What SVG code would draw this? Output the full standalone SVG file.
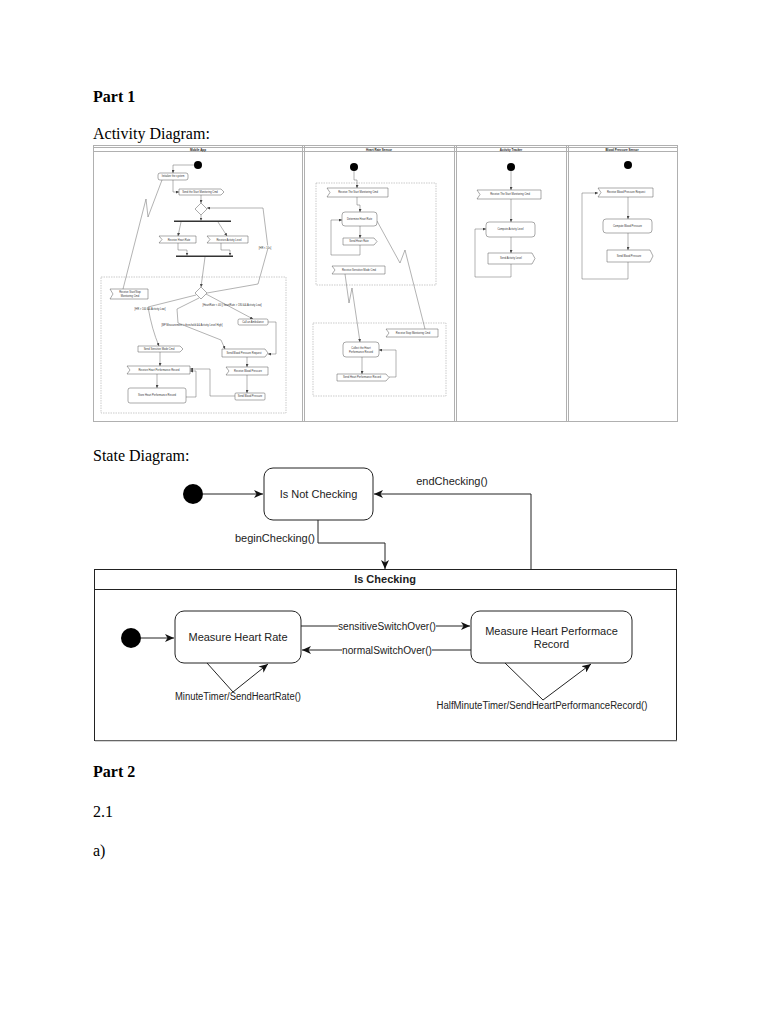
<svg xmlns="http://www.w3.org/2000/svg" width="768" height="1024" viewBox="0 0 768 1024">
<style>
.doc{font-family:"Liberation Serif","Times New Roman",serif;font-size:16px;fill:#000}
.b{font-weight:bold}
.fr{fill:none;stroke:#b0b0b0;stroke-width:1}
.ln{fill:none;stroke:#666;stroke-width:0.5}
.nd{fill:#fff;stroke:#555;stroke-width:0.5}
.dash{fill:none;stroke:#aaa;stroke-width:0.6;stroke-dasharray:1.5,1}
.t{font-family:"Liberation Sans",Arial,sans-serif;font-size:2.6px;fill:#333;text-anchor:middle}
.th{font-family:"Liberation Sans",Arial,sans-serif;font-size:3px;font-weight:bold;fill:#222;text-anchor:middle}
.st{fill:#fff;stroke:#222;stroke-width:1}
.sl{fill:none;stroke:#222;stroke-width:1}
.s{font-family:"Liberation Sans",Arial,sans-serif;font-size:11px;fill:#222;text-anchor:middle}
.sm{font-size:10px}
</style>
<defs>
<marker id="a" markerUnits="userSpaceOnUse" markerWidth="3" markerHeight="3" refX="3" refY="1.5" orient="auto"><path d="M0,0 L3,1.5 L0,3 z" fill="#444"/></marker>
<marker id="A" markerUnits="userSpaceOnUse" markerWidth="10" markerHeight="8" refX="9" refY="4" orient="auto"><path d="M0,0 L9,4 L0,8 L2.5,4 z" fill="#111"/></marker>
</defs>
<rect width="768" height="1024" fill="#fff"/>
<text class="doc b" x="93" y="102">Part 1</text>
<text class="doc" x="93" y="139">Activity Diagram:</text>
<text class="doc" x="93" y="461">State Diagram:</text>
<text class="doc b" x="93" y="777">Part 2</text>
<text class="doc" x="93" y="817">2.1</text>
<text class="doc" x="93" y="856">a)</text>

<g id="activity-diagram">
<rect class="fr" x="93.5" y="145.5" width="584" height="276"/>
<line class="fr" x1="93.5" y1="147.5" x2="677.5" y2="147.5"/>
<line class="fr" x1="93.5" y1="151.5" x2="677.5" y2="151.5"/>
<line class="fr" x1="302.5" y1="145.5" x2="302.5" y2="421.5"/>
<line class="fr" x1="304.5" y1="145.5" x2="304.5" y2="421.5"/>
<line class="fr" x1="454.5" y1="145.5" x2="454.5" y2="421.5"/>
<line class="fr" x1="456.5" y1="145.5" x2="456.5" y2="421.5"/>
<line class="fr" x1="566.5" y1="145.5" x2="566.5" y2="421.5"/>
<line class="fr" x1="568.5" y1="145.5" x2="568.5" y2="421.5"/>
<text class="th" x="198" y="150.5">Mobile App</text>
<text class="th" x="379" y="150.5">Heart Rate Sensor</text>
<text class="th" x="511" y="150.5">Activity Tracker</text>
<text class="th" x="622" y="150.5">Blood Pressure Sensor</text>
<rect class="dash" x="101" y="277" width="185" height="136"/>
<rect class="dash" x="316" y="183" width="120" height="102"/>
<rect class="dash" x="313" y="323" width="133" height="73"/>

<g id="ad-connectors">
<path class="ln" d="M194,165 H173 V173" marker-end="url(#a)"/>
<path class="ln" d="M173,180 V192 H179" marker-end="url(#a)"/>
<path class="ln" d="M201,195 V203" marker-end="url(#a)"/>
<path class="ln" d="M201,215 V220.5" marker-end="url(#a)"/>
<path class="ln" d="M181,222 L178,236" marker-end="url(#a)"/>
<path class="ln" d="M218,222 L227,236" marker-end="url(#a)"/>
<path class="ln" d="M178,243 V250 H187 V255.5" marker-end="url(#a)"/>
<path class="ln" d="M221,243 V250 H230 V255.5" marker-end="url(#a)"/>
<path class="ln" d="M205,257 L201,287" marker-end="url(#a)"/>
<path class="ln" d="M207,293 L258,284 L268,248 L263,208 H207" marker-end="url(#a)"/>
<path class="ln" d="M123,289 L146,199 L148,217 L162,180"/>
<path class="ln" d="M196,295 L148,307 Q152,330 159,346" marker-end="url(#a)"/>
<path class="ln" d="M199,298 L177,309 L178,323 L221,340 L225,349" marker-end="url(#a)"/>
<path class="ln" d="M206,294 L253,319" marker-end="url(#a)"/>
<path class="ln" d="M268,322 H276 V354 H268" marker-end="url(#a)"/>
<path class="ln" d="M160,352 V366" marker-end="url(#a)"/>
<path class="ln" d="M157,374 V388" marker-end="url(#a)"/>
<path class="ln" d="M186,397 H196 V371 H190" marker-end="url(#a)"/>
<path class="ln" d="M247,357 V367" marker-end="url(#a)"/>
<path class="ln" d="M247,375 V393" marker-end="url(#a)"/>
<path class="ln" d="M235,396 H210 V369 H190" marker-end="url(#a)"/>
<path class="ln" d="M354,171 V180 H357 V188" marker-end="url(#a)"/>
<path class="ln" d="M357,197 V205 H360 V212" marker-end="url(#a)"/>
<path class="ln" d="M360,226 V238" marker-end="url(#a)"/>
<path class="ln" d="M360,245 V255 H331 V220 H342" marker-end="url(#a)"/>
<path class="ln" d="M377,221 L400,263 L405,250 L425,329"/>
<path class="ln" d="M345,274 L349,303 L352,288 L360,342" marker-end="url(#a)"/>
<path class="ln" d="M362,357 V374" marker-end="url(#a)"/>
<path class="ln" d="M389,377 H396 V350 H379" marker-end="url(#a)"/>
<path class="ln" d="M511,171 V190" marker-end="url(#a)"/>
<path class="ln" d="M511,199 V222" marker-end="url(#a)"/>
<path class="ln" d="M511,237 V253" marker-end="url(#a)"/>
<path class="ln" d="M511,264 V277 H475 V229 H486" marker-end="url(#a)"/>
<path class="ln" d="M628,197 V219" marker-end="url(#a)"/>
<path class="ln" d="M628,233 V250" marker-end="url(#a)"/>
<path class="ln" d="M628,262 V279 H582 V193 H598" marker-end="url(#a)"/>
<rect x="258" y="245.5" width="14" height="3.5" fill="#fff"/>
<text class="t" x="265" y="248.5">[HR &lt; 10s]</text>
<text class="t" x="150" y="310">[HR &gt; 100 &amp;&amp; Activity Low]</text>
<text class="t" x="192" y="326">[BP Measurement &gt; threshold &amp;&amp; Activity Level High]</text>
<text class="t" x="232" y="306">[HeartRate &lt; 40 || heartRate &gt; 180 &amp;&amp; Activity Low]</text>
</g>

<g id="ad-mobile-start"><circle cx="198" cy="165" r="4" fill="#000"/></g>
<g id="ad-initialize"><rect class="nd" x="158" y="173" width="30" height="7" rx="2"/><text class="t" x="173" y="177.4">Initialize the system</text></g>
<g id="ad-send-start"><path class="nd" d="M179,189 H221 L224,192 L221,195 H179 Z"/><text class="t" x="200" y="193">Send the Start Monitoring Cmd</text></g>
<g id="ad-decision1"><path class="nd" d="M201,203 L207,209 L201,215 L195,209 Z"/></g>
<g id="ad-fork"><rect x="174" y="220.5" width="57" height="1.5" fill="#333"/></g>
<g id="ad-recv-hr"><path class="nd" d="M159,236 H196 V243 H159 L162,239.5 Z"/><text class="t" x="179" y="240.5">Receive Heart Rate</text></g>
<g id="ad-recv-al"><path class="nd" d="M207,236 H248 V243 H207 L210,239.5 Z"/><text class="t" x="229" y="240.5">Receive Activity Level</text></g>
<g id="ad-join"><rect x="176" y="255.5" width="57" height="1.5" fill="#333"/></g>
<g id="ad-recv-startstop"><path class="nd" d="M110,289 H148 V299 H110 L113,294 Z"/><text class="t" x="130" y="293.2">Receive Start/Stop</text><text class="t" x="130" y="296.6">Monitoring Cmd</text></g>
<g id="ad-decision2"><path class="nd" d="M201,287 L207,293 L201,299 L195,293 Z"/></g>
<g id="ad-call-amb"><rect class="nd" x="238" y="319" width="30" height="6" rx="1.5"/><text class="t" x="253" y="322.9">Call an Ambulance</text></g>
<g id="ad-send-sens"><path class="nd" d="M138,346 H180 L183,349 L180,352 H138 Z"/><text class="t" x="159" y="349.9">Send Sensitive Mode Cmd</text></g>
<g id="ad-send-bpreq"><path class="nd" d="M222,349 H265 L268,353 L265,357 H222 Z"/><text class="t" x="244" y="353.9">Send Blood Pressure Request</text></g>
<g id="ad-recv-hpr"><path class="nd" d="M127,366 H190 V374 H127 L130,370 Z"/><text class="t" x="159" y="371">Receive Heart Performance Record</text></g>
<g id="ad-recv-bp"><path class="nd" d="M226,367 H268 V375 H226 L229,371 Z"/><text class="t" x="248" y="372">Receive Blood Pressure</text></g>
<g id="ad-store-hpr"><rect class="nd" x="128" y="388" width="58" height="15" rx="2"/><text class="t" x="157" y="396.4">Store Heart Performance Record</text></g>
<g id="ad-send-bp"><rect class="nd" x="235" y="393" width="30" height="7" rx="1"/><text class="t" x="250" y="397.4">Send Blood Pressure</text></g>

<g id="hr-start"><circle cx="354" cy="167" r="4" fill="#000"/></g>
<g id="hr-recv-start"><path class="nd" d="M327,188 H388 V197 H327 L330,192.5 Z"/><text class="t" x="358" y="193.4">Receive The Start Monitoring Cmd</text></g>
<g id="hr-determine"><rect class="nd" x="342" y="212" width="35" height="14" rx="3"/><text class="t" x="359.5" y="219.9">Determine Heart Rate</text></g>
<g id="hr-send-hr"><path class="nd" d="M343,238 H374 L377,241.5 L374,245 H343 Z"/><text class="t" x="359" y="242.4">Send Heart Rate</text></g>
<g id="hr-recv-sens"><path class="nd" d="M332,266 H385 V274 H332 L335,270 Z"/><text class="t" x="359" y="271">Receive Sensitive Mode Cmd</text></g>
<g id="hr-recv-stop"><path class="nd" d="M386,329 H438 V337 H386 L389,333 Z"/><text class="t" x="413" y="334">Receive Stop Monitoring Cmd</text></g>
<g id="hr-collect"><rect class="nd" x="343" y="342" width="36" height="15" rx="3"/><text class="t" x="361" y="348.5">Collect the Heart</text><text class="t" x="361" y="352.5">Performance Record</text></g>
<g id="hr-send-hpr"><path class="nd" d="M337,374 H386 L389,377.5 L386,381 H337 Z"/><text class="t" x="362" y="378.4">Send Heart Performance Record</text></g>

<g id="at-start"><circle cx="511" cy="167" r="4" fill="#000"/></g>
<g id="at-recv-start"><path class="nd" d="M477,190 H541 V199 H477 L480,194.5 Z"/><text class="t" x="510" y="195.4">Receive The Start Monitoring Cmd</text></g>
<g id="at-compute"><rect class="nd" x="486" y="222" width="49" height="15" rx="3"/><text class="t" x="510.5" y="230.4">Compute Activity Level</text></g>
<g id="at-send"><path class="nd" d="M488,253 H532 L535,258.5 L532,264 H488 Z"/><text class="t" x="511" y="259.4">Send Activity Level</text></g>

<g id="bp-start"><circle cx="628" cy="165" r="4" fill="#000"/></g>
<g id="bp-recv-req"><path class="nd" d="M598,188 H653 V197 H598 L601,192.5 Z"/><text class="t" x="626" y="193.4">Receive Blood Pressure Request</text></g>
<g id="bp-compute"><rect class="nd" x="603" y="219" width="49" height="14" rx="3"/><text class="t" x="627.5" y="226.9">Compute Blood Pressure</text></g>
<g id="bp-send"><path class="nd" d="M607,250 H650 L653,256 L650,262 H607 Z"/><text class="t" x="629" y="256.9">Send Blood Pressure</text></g>
</g>

<g id="state-diagram">
<g id="sd-connectors">
<path class="sl" d="M203,494 H263" marker-end="url(#A)"/>
<path class="sl" d="M318,520 V543 H385 V569" marker-end="url(#A)"/>
<path class="sl" d="M531,569 V494 H374" marker-end="url(#A)" stroke="#555"/>
<path class="sl" d="M141,638 H174" marker-end="url(#A)"/>
<path class="sl" d="M301,626 H470" marker-end="url(#A)" stroke="#666"/>
<path class="sl" d="M471,650 H302" marker-end="url(#A)"/>
<path class="sl" d="M207,663 L233,692 L268,664" marker-end="url(#A)"/>
<path class="sl" d="M505,663 L543,700 L591,664" marker-end="url(#A)"/>
<text class="s" x="275" y="542">beginChecking()</text>
<text class="s" x="452" y="485">endChecking()</text>
<rect x="338" y="619" width="98" height="13" fill="#fff"/>
<text class="s sm" x="387" y="630" textLength="98" lengthAdjust="spacingAndGlyphs">sensitiveSwitchOver()</text>
<rect x="342" y="644" width="90" height="13" fill="#fff"/>
<text class="s sm" x="387" y="654" textLength="90" lengthAdjust="spacingAndGlyphs">normalSwitchOver()</text>
<text class="s sm" x="238" y="700" textLength="126" lengthAdjust="spacingAndGlyphs">MinuteTimer/SendHeartRate()</text>
<text class="s sm" x="542" y="709" textLength="211" lengthAdjust="spacingAndGlyphs">HalfMinuteTimer/SendHeartPerformanceRecord()</text>
</g>
<g id="sd-initial"><circle cx="193" cy="494" r="10" fill="#000"/></g>
<g id="sd-is-not-checking"><rect class="st" x="264" y="468" width="109" height="52" rx="9"/><text class="s" x="318.5" y="498">Is Not Checking</text></g>
<g id="sd-is-checking">
<rect x="94.5" y="569.5" width="582" height="171" fill="none" stroke="#222" stroke-width="1"/>
<line x1="94.5" y1="589.5" x2="676.5" y2="589.5" stroke="#222" stroke-width="1"/>
<line x1="95" y1="741" x2="677" y2="741" stroke="#aaa" stroke-width="1"/>
<text class="s" x="385" y="583" font-weight="bold">Is Checking</text>
</g>
<g id="sd-initial2"><circle cx="131" cy="638" r="10" fill="#000"/></g>
<g id="sd-measure-hr"><rect class="st" x="175" y="611" width="126" height="52" rx="9"/><text class="s" x="238" y="641">Measure Heart Rate</text></g>
<g id="sd-measure-hpr"><rect class="st" x="471" y="611" width="161" height="52" rx="9"/><text class="s" x="551.5" y="635">Measure Heart Performace</text><text class="s" x="551.5" y="648">Record</text></g>
</g>
</svg>
